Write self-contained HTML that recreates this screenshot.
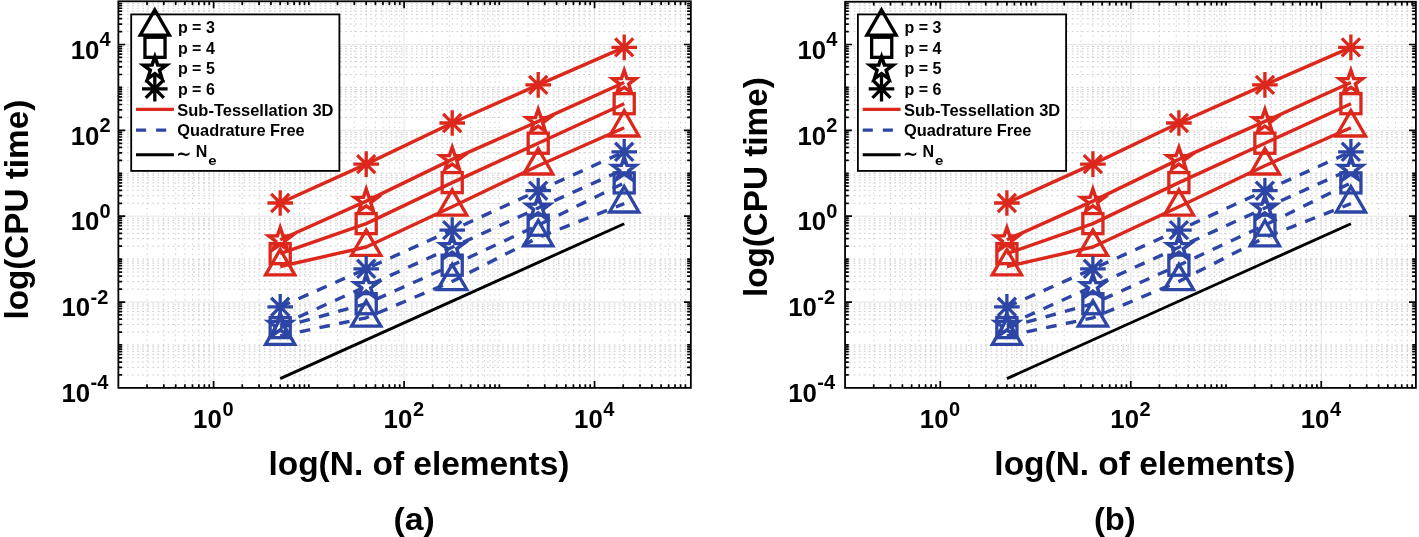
<!DOCTYPE html>
<html lang="en">
<head>
<meta charset="utf-8">
<title>CPU time vs number of elements</title>
<style>
html,body{margin:0;padding:0;background:#fff;}
body{width:1419px;height:537px;overflow:hidden;}
svg{display:block;}
text{font-family:"Liberation Sans",sans-serif;font-weight:bold;fill:#000;}
.tk text{font-size:25.8px;}
.tk text.ex{font-size:20px;}
.lab{font-size:33.45px;}
.ylab{font-size:33.25px;}
.cap{font-size:31.2px;}
.lg text{font-size:15.7px;}
.lg text.nn{font-size:16px;}
.lg text.sb{font-size:13.4px;}
.lg text.tl{font-family:"Liberation Sans","DejaVu Sans",sans-serif;font-size:18.5px;}
</style>
</head>
<body>
<svg width="1419" height="537" viewBox="0 0 1419 537">
<rect width="1419" height="537" fill="#fff"/>
<g transform="translate(0 0)">
<path d="M147.03 1.6V387.88M163.8 1.6V387.88M175.7 1.6V387.88M184.93 1.6V387.88M192.47 1.6V387.88M198.85 1.6V387.88M204.37 1.6V387.88M209.24 1.6V387.88M242.27 1.6V387.88M259.04 1.6V387.88M270.94 1.6V387.88M280.17 1.6V387.88M287.71 1.6V387.88M294.09 1.6V387.88M299.61 1.6V387.88M304.48 1.6V387.88M337.51 1.6V387.88M354.28 1.6V387.88M366.18 1.6V387.88M375.41 1.6V387.88M382.95 1.6V387.88M389.33 1.6V387.88M394.85 1.6V387.88M399.72 1.6V387.88M432.75 1.6V387.88M449.52 1.6V387.88M461.42 1.6V387.88M470.65 1.6V387.88M478.19 1.6V387.88M484.57 1.6V387.88M490.09 1.6V387.88M494.96 1.6V387.88M527.99 1.6V387.88M544.76 1.6V387.88M556.66 1.6V387.88M565.89 1.6V387.88M573.43 1.6V387.88M579.81 1.6V387.88M585.33 1.6V387.88M590.2 1.6V387.88M623.23 1.6V387.88M640 1.6V387.88M651.9 1.6V387.88M661.13 1.6V387.88M668.67 1.6V387.88M675.05 1.6V387.88M680.57 1.6V387.88M685.44 1.6V387.88M308.84 1.6V387.88M499.32 1.6V387.88" stroke="#b8b8b8" stroke-width="0.85" stroke-dasharray="1.3 3.77" stroke-dashoffset="1.5" fill="none" opacity="0.85"/>
<path d="M118.36 374.96H689.8M118.36 367.4H689.8M118.36 362.04H689.8M118.36 357.88H689.8M118.36 354.48H689.8M118.36 351.61H689.8M118.36 349.12H689.8M118.36 346.92H689.8M118.36 332.04H689.8M118.36 324.48H689.8M118.36 319.12H689.8M118.36 314.96H689.8M118.36 311.56H689.8M118.36 308.69H689.8M118.36 306.2H689.8M118.36 304H689.8M118.36 289.12H689.8M118.36 281.56H689.8M118.36 276.2H689.8M118.36 272.04H689.8M118.36 268.64H689.8M118.36 265.77H689.8M118.36 263.28H689.8M118.36 261.08H689.8M118.36 246.2H689.8M118.36 238.64H689.8M118.36 233.28H689.8M118.36 229.12H689.8M118.36 225.72H689.8M118.36 222.85H689.8M118.36 220.36H689.8M118.36 218.16H689.8M118.36 203.28H689.8M118.36 195.72H689.8M118.36 190.36H689.8M118.36 186.2H689.8M118.36 182.8H689.8M118.36 179.93H689.8M118.36 177.44H689.8M118.36 175.24H689.8M118.36 160.36H689.8M118.36 152.8H689.8M118.36 147.44H689.8M118.36 143.28H689.8M118.36 139.88H689.8M118.36 137.01H689.8M118.36 134.52H689.8M118.36 132.32H689.8M118.36 117.44H689.8M118.36 109.88H689.8M118.36 104.52H689.8M118.36 100.36H689.8M118.36 96.96H689.8M118.36 94.09H689.8M118.36 91.6H689.8M118.36 89.4H689.8M118.36 74.52H689.8M118.36 66.96H689.8M118.36 61.6H689.8M118.36 57.44H689.8M118.36 54.04H689.8M118.36 51.17H689.8M118.36 48.68H689.8M118.36 46.48H689.8M118.36 31.6H689.8M118.36 24.04H689.8M118.36 18.68H689.8M118.36 14.52H689.8M118.36 11.12H689.8M118.36 8.25H689.8M118.36 5.76H689.8M118.36 3.56H689.8M118.36 344.96H689.8M118.36 259.12H689.8M118.36 173.28H689.8M118.36 87.44H689.8" stroke="#b8b8b8" stroke-width="0.85" stroke-dasharray="1.7 3.37" stroke-dashoffset="1.5" fill="none" opacity="0.85"/>
<path d="M213.6 1.6V387.88M404.08 1.6V387.88M594.56 1.6V387.88M118.36 302.04H689.8M118.36 216.2H689.8M118.36 130.36H689.8M118.36 44.52H689.8" stroke="#dedede" stroke-width="0.8" fill="none"/>
<polyline points="280.2,266.5 366.2,247 452.2,206.8 538.2,165.7 624.2,127.7" fill="none" stroke="#dc281c" stroke-width="3.4" stroke-linejoin="round"/>
<polygon points="280.2,249.45 294.84,274.8 265.56,274.8" fill="none" stroke="#dc281c" stroke-width="3.3" stroke-linejoin="miter"/>
<polygon points="366.2,229.95 380.84,255.3 351.56,255.3" fill="none" stroke="#dc281c" stroke-width="3.3" stroke-linejoin="miter"/>
<polygon points="452.2,189.75 466.84,215.1 437.56,215.1" fill="none" stroke="#dc281c" stroke-width="3.3" stroke-linejoin="miter"/>
<polygon points="538.2,148.65 552.84,174 523.56,174" fill="none" stroke="#dc281c" stroke-width="3.3" stroke-linejoin="miter"/>
<polygon points="624.2,110.65 638.84,136 609.56,136" fill="none" stroke="#dc281c" stroke-width="3.3" stroke-linejoin="miter"/>
<polyline points="280.2,253.6 366.2,223.6 452.2,182.6 538.2,143.2 624.2,103.7" fill="none" stroke="#dc281c" stroke-width="3.4" stroke-linejoin="round"/>
<rect x="270.15" y="243.55" width="20.1" height="20.1" fill="none" stroke="#dc281c" stroke-width="3.3"/>
<rect x="356.15" y="213.55" width="20.1" height="20.1" fill="none" stroke="#dc281c" stroke-width="3.3"/>
<rect x="442.15" y="172.55" width="20.1" height="20.1" fill="none" stroke="#dc281c" stroke-width="3.3"/>
<rect x="528.15" y="133.15" width="20.1" height="20.1" fill="none" stroke="#dc281c" stroke-width="3.3"/>
<rect x="614.15" y="93.65" width="20.1" height="20.1" fill="none" stroke="#dc281c" stroke-width="3.3"/>
<polyline points="280.2,239.7 366.2,201.1 452.2,159.4 538.2,121.4 624.2,82.5" fill="none" stroke="#dc281c" stroke-width="3.4" stroke-linejoin="round"/>
<polygon points="280.2,227.6 283.01,235.83 291.71,235.96 284.75,241.18 287.31,249.49 280.2,244.48 273.09,249.49 275.65,241.18 268.69,235.96 277.39,235.83" fill="none" stroke="#dc281c" stroke-width="3.5" stroke-linejoin="miter" stroke-miterlimit="6"/>
<polygon points="366.2,189 369.01,197.23 377.71,197.36 370.75,202.58 373.31,210.89 366.2,205.88 359.09,210.89 361.65,202.58 354.69,197.36 363.39,197.23" fill="none" stroke="#dc281c" stroke-width="3.5" stroke-linejoin="miter" stroke-miterlimit="6"/>
<polygon points="452.2,147.3 455.01,155.53 463.71,155.66 456.75,160.88 459.31,169.19 452.2,164.18 445.09,169.19 447.65,160.88 440.69,155.66 449.39,155.53" fill="none" stroke="#dc281c" stroke-width="3.5" stroke-linejoin="miter" stroke-miterlimit="6"/>
<polygon points="538.2,109.3 541.01,117.53 549.71,117.66 542.75,122.88 545.31,131.19 538.2,126.18 531.09,131.19 533.65,122.88 526.69,117.66 535.39,117.53" fill="none" stroke="#dc281c" stroke-width="3.5" stroke-linejoin="miter" stroke-miterlimit="6"/>
<polygon points="624.2,70.4 627.01,78.63 635.71,78.76 628.75,83.98 631.31,92.29 624.2,87.28 617.09,92.29 619.65,83.98 612.69,78.76 621.39,78.63" fill="none" stroke="#dc281c" stroke-width="3.5" stroke-linejoin="miter" stroke-miterlimit="6"/>
<polyline points="280.2,203 366.2,164.1 452.2,123 538.2,84.9 624.2,47.4" fill="none" stroke="#dc281c" stroke-width="3.4" stroke-linejoin="round"/>
<path d="M267.4 203L293 203 M280.2 190.2L280.2 215.8 M271.15 193.95L289.25 212.05 M271.15 212.05L289.25 193.95" fill="none" stroke="#dc281c" stroke-width="3.3"/>
<path d="M353.4 164.1L379 164.1 M366.2 151.3L366.2 176.9 M357.15 155.05L375.25 173.15 M357.15 173.15L375.25 155.05" fill="none" stroke="#dc281c" stroke-width="3.3"/>
<path d="M439.4 123L465 123 M452.2 110.2L452.2 135.8 M443.15 113.95L461.25 132.05 M443.15 132.05L461.25 113.95" fill="none" stroke="#dc281c" stroke-width="3.3"/>
<path d="M525.4 84.9L551 84.9 M538.2 72.1L538.2 97.7 M529.15 75.85L547.25 93.95 M529.15 93.95L547.25 75.85" fill="none" stroke="#dc281c" stroke-width="3.3"/>
<path d="M611.4 47.4L637 47.4 M624.2 34.6L624.2 60.2 M615.15 38.35L633.25 56.45 M615.15 56.45L633.25 38.35" fill="none" stroke="#dc281c" stroke-width="3.3"/>
<polyline points="280.2,336 366.2,317.8 452.2,281.4 538.2,237.5 624.2,203.7" fill="none" stroke="#2d46a5" stroke-width="3.4" stroke-linejoin="round" stroke-dasharray="10.62 9.45"/>
<polygon points="280.2,318.95 294.84,344.3 265.56,344.3" fill="none" stroke="#2d46a5" stroke-width="3.3" stroke-linejoin="miter"/>
<polygon points="366.2,300.75 380.84,326.1 351.56,326.1" fill="none" stroke="#2d46a5" stroke-width="3.3" stroke-linejoin="miter"/>
<polygon points="452.2,264.35 466.84,289.7 437.56,289.7" fill="none" stroke="#2d46a5" stroke-width="3.3" stroke-linejoin="miter"/>
<polygon points="538.2,220.45 552.84,245.8 523.56,245.8" fill="none" stroke="#2d46a5" stroke-width="3.3" stroke-linejoin="miter"/>
<polygon points="624.2,186.65 638.84,212 609.56,212" fill="none" stroke="#2d46a5" stroke-width="3.3" stroke-linejoin="miter"/>
<polyline points="280.2,327.6 366.2,303.7 452.2,265.2 538.2,225.2 624.2,182.9" fill="none" stroke="#2d46a5" stroke-width="3.4" stroke-linejoin="round" stroke-dasharray="10.62 9.45"/>
<rect x="270.15" y="317.55" width="20.1" height="20.1" fill="none" stroke="#2d46a5" stroke-width="3.3"/>
<rect x="356.15" y="293.65" width="20.1" height="20.1" fill="none" stroke="#2d46a5" stroke-width="3.3"/>
<rect x="442.15" y="255.15" width="20.1" height="20.1" fill="none" stroke="#2d46a5" stroke-width="3.3"/>
<rect x="528.15" y="215.15" width="20.1" height="20.1" fill="none" stroke="#2d46a5" stroke-width="3.3"/>
<rect x="614.15" y="172.85" width="20.1" height="20.1" fill="none" stroke="#2d46a5" stroke-width="3.3"/>
<polyline points="280.2,325.2 366.2,286.4 452.2,247.3 538.2,208 624.2,169.2" fill="none" stroke="#2d46a5" stroke-width="3.4" stroke-linejoin="round" stroke-dasharray="10.62 9.45"/>
<polygon points="280.2,313.1 283.01,321.33 291.71,321.46 284.75,326.68 287.31,334.99 280.2,329.98 273.09,334.99 275.65,326.68 268.69,321.46 277.39,321.33" fill="none" stroke="#2d46a5" stroke-width="3.5" stroke-linejoin="miter" stroke-miterlimit="6"/>
<polygon points="366.2,274.3 369.01,282.53 377.71,282.66 370.75,287.88 373.31,296.19 366.2,291.18 359.09,296.19 361.65,287.88 354.69,282.66 363.39,282.53" fill="none" stroke="#2d46a5" stroke-width="3.5" stroke-linejoin="miter" stroke-miterlimit="6"/>
<polygon points="452.2,235.2 455.01,243.43 463.71,243.56 456.75,248.78 459.31,257.09 452.2,252.08 445.09,257.09 447.65,248.78 440.69,243.56 449.39,243.43" fill="none" stroke="#2d46a5" stroke-width="3.5" stroke-linejoin="miter" stroke-miterlimit="6"/>
<polygon points="538.2,195.9 541.01,204.13 549.71,204.26 542.75,209.48 545.31,217.79 538.2,212.78 531.09,217.79 533.65,209.48 526.69,204.26 535.39,204.13" fill="none" stroke="#2d46a5" stroke-width="3.5" stroke-linejoin="miter" stroke-miterlimit="6"/>
<polygon points="624.2,157.1 627.01,165.33 635.71,165.46 628.75,170.68 631.31,178.99 624.2,173.98 617.09,178.99 619.65,170.68 612.69,165.46 621.39,165.33" fill="none" stroke="#2d46a5" stroke-width="3.5" stroke-linejoin="miter" stroke-miterlimit="6"/>
<polyline points="280.2,306.8 366.2,268.8 452.2,230.1 538.2,190.7 624.2,151.8" fill="none" stroke="#2d46a5" stroke-width="3.4" stroke-linejoin="round" stroke-dasharray="10.62 9.45"/>
<path d="M267.4 306.8L293 306.8 M280.2 294L280.2 319.6 M271.15 297.75L289.25 315.85 M271.15 315.85L289.25 297.75" fill="none" stroke="#2d46a5" stroke-width="3.3"/>
<path d="M353.4 268.8L379 268.8 M366.2 256L366.2 281.6 M357.15 259.75L375.25 277.85 M357.15 277.85L375.25 259.75" fill="none" stroke="#2d46a5" stroke-width="3.3"/>
<path d="M439.4 230.1L465 230.1 M452.2 217.3L452.2 242.9 M443.15 221.05L461.25 239.15 M443.15 239.15L461.25 221.05" fill="none" stroke="#2d46a5" stroke-width="3.3"/>
<path d="M525.4 190.7L551 190.7 M538.2 177.9L538.2 203.5 M529.15 181.65L547.25 199.75 M529.15 199.75L547.25 181.65" fill="none" stroke="#2d46a5" stroke-width="3.3"/>
<path d="M611.4 151.8L637 151.8 M624.2 139L624.2 164.6 M615.15 142.75L633.25 160.85 M615.15 160.85L633.25 142.75" fill="none" stroke="#2d46a5" stroke-width="3.3"/>
<path d="M280.2 378.6L624.2 223.75" stroke="#000" stroke-width="2.9" fill="none"/>
<path d="M147.03 387.88v-3.7M147.03 1.3v3.7M163.8 387.88v-3.7M163.8 1.3v3.7M175.7 387.88v-3.7M175.7 1.3v3.7M184.93 387.88v-3.7M184.93 1.3v3.7M192.47 387.88v-3.7M192.47 1.3v3.7M198.85 387.88v-3.7M198.85 1.3v3.7M204.37 387.88v-3.7M204.37 1.3v3.7M209.24 387.88v-3.7M209.24 1.3v3.7M213.6 387.88v-6.9M213.6 1.3v6.9M242.27 387.88v-3.7M242.27 1.3v3.7M259.04 387.88v-3.7M259.04 1.3v3.7M270.94 387.88v-3.7M270.94 1.3v3.7M280.17 387.88v-3.7M280.17 1.3v3.7M287.71 387.88v-3.7M287.71 1.3v3.7M294.09 387.88v-3.7M294.09 1.3v3.7M299.61 387.88v-3.7M299.61 1.3v3.7M304.48 387.88v-3.7M304.48 1.3v3.7M308.84 387.88v-3.7M308.84 1.3v3.7M337.51 387.88v-3.7M337.51 1.3v3.7M354.28 387.88v-3.7M354.28 1.3v3.7M366.18 387.88v-3.7M366.18 1.3v3.7M375.41 387.88v-3.7M375.41 1.3v3.7M382.95 387.88v-3.7M382.95 1.3v3.7M389.33 387.88v-3.7M389.33 1.3v3.7M394.85 387.88v-3.7M394.85 1.3v3.7M399.72 387.88v-3.7M399.72 1.3v3.7M404.08 387.88v-6.9M404.08 1.3v6.9M432.75 387.88v-3.7M432.75 1.3v3.7M449.52 387.88v-3.7M449.52 1.3v3.7M461.42 387.88v-3.7M461.42 1.3v3.7M470.65 387.88v-3.7M470.65 1.3v3.7M478.19 387.88v-3.7M478.19 1.3v3.7M484.57 387.88v-3.7M484.57 1.3v3.7M490.09 387.88v-3.7M490.09 1.3v3.7M494.96 387.88v-3.7M494.96 1.3v3.7M499.32 387.88v-3.7M499.32 1.3v3.7M527.99 387.88v-3.7M527.99 1.3v3.7M544.76 387.88v-3.7M544.76 1.3v3.7M556.66 387.88v-3.7M556.66 1.3v3.7M565.89 387.88v-3.7M565.89 1.3v3.7M573.43 387.88v-3.7M573.43 1.3v3.7M579.81 387.88v-3.7M579.81 1.3v3.7M585.33 387.88v-3.7M585.33 1.3v3.7M590.2 387.88v-3.7M590.2 1.3v3.7M594.56 387.88v-6.9M594.56 1.3v6.9M623.23 387.88v-3.7M623.23 1.3v3.7M640 387.88v-3.7M640 1.3v3.7M651.9 387.88v-3.7M651.9 1.3v3.7M661.13 387.88v-3.7M661.13 1.3v3.7M668.67 387.88v-3.7M668.67 1.3v3.7M675.05 387.88v-3.7M675.05 1.3v3.7M680.57 387.88v-3.7M680.57 1.3v3.7M685.44 387.88v-3.7M685.44 1.3v3.7M118.36 374.96h3.7M690.85 374.96h-3.7M118.36 367.4h3.7M690.85 367.4h-3.7M118.36 362.04h3.7M690.85 362.04h-3.7M118.36 357.88h3.7M690.85 357.88h-3.7M118.36 354.48h3.7M690.85 354.48h-3.7M118.36 351.61h3.7M690.85 351.61h-3.7M118.36 349.12h3.7M690.85 349.12h-3.7M118.36 346.92h3.7M690.85 346.92h-3.7M118.36 344.96h3.7M690.85 344.96h-3.7M118.36 332.04h3.7M690.85 332.04h-3.7M118.36 324.48h3.7M690.85 324.48h-3.7M118.36 319.12h3.7M690.85 319.12h-3.7M118.36 314.96h3.7M690.85 314.96h-3.7M118.36 311.56h3.7M690.85 311.56h-3.7M118.36 308.69h3.7M690.85 308.69h-3.7M118.36 306.2h3.7M690.85 306.2h-3.7M118.36 304h3.7M690.85 304h-3.7M118.36 302.04h6.9M690.85 302.04h-6.9M118.36 289.12h3.7M690.85 289.12h-3.7M118.36 281.56h3.7M690.85 281.56h-3.7M118.36 276.2h3.7M690.85 276.2h-3.7M118.36 272.04h3.7M690.85 272.04h-3.7M118.36 268.64h3.7M690.85 268.64h-3.7M118.36 265.77h3.7M690.85 265.77h-3.7M118.36 263.28h3.7M690.85 263.28h-3.7M118.36 261.08h3.7M690.85 261.08h-3.7M118.36 259.12h3.7M690.85 259.12h-3.7M118.36 246.2h3.7M690.85 246.2h-3.7M118.36 238.64h3.7M690.85 238.64h-3.7M118.36 233.28h3.7M690.85 233.28h-3.7M118.36 229.12h3.7M690.85 229.12h-3.7M118.36 225.72h3.7M690.85 225.72h-3.7M118.36 222.85h3.7M690.85 222.85h-3.7M118.36 220.36h3.7M690.85 220.36h-3.7M118.36 218.16h3.7M690.85 218.16h-3.7M118.36 216.2h6.9M690.85 216.2h-6.9M118.36 203.28h3.7M690.85 203.28h-3.7M118.36 195.72h3.7M690.85 195.72h-3.7M118.36 190.36h3.7M690.85 190.36h-3.7M118.36 186.2h3.7M690.85 186.2h-3.7M118.36 182.8h3.7M690.85 182.8h-3.7M118.36 179.93h3.7M690.85 179.93h-3.7M118.36 177.44h3.7M690.85 177.44h-3.7M118.36 175.24h3.7M690.85 175.24h-3.7M118.36 173.28h3.7M690.85 173.28h-3.7M118.36 160.36h3.7M690.85 160.36h-3.7M118.36 152.8h3.7M690.85 152.8h-3.7M118.36 147.44h3.7M690.85 147.44h-3.7M118.36 143.28h3.7M690.85 143.28h-3.7M118.36 139.88h3.7M690.85 139.88h-3.7M118.36 137.01h3.7M690.85 137.01h-3.7M118.36 134.52h3.7M690.85 134.52h-3.7M118.36 132.32h3.7M690.85 132.32h-3.7M118.36 130.36h6.9M690.85 130.36h-6.9M118.36 117.44h3.7M690.85 117.44h-3.7M118.36 109.88h3.7M690.85 109.88h-3.7M118.36 104.52h3.7M690.85 104.52h-3.7M118.36 100.36h3.7M690.85 100.36h-3.7M118.36 96.96h3.7M690.85 96.96h-3.7M118.36 94.09h3.7M690.85 94.09h-3.7M118.36 91.6h3.7M690.85 91.6h-3.7M118.36 89.4h3.7M690.85 89.4h-3.7M118.36 87.44h3.7M690.85 87.44h-3.7M118.36 74.52h3.7M690.85 74.52h-3.7M118.36 66.96h3.7M690.85 66.96h-3.7M118.36 61.6h3.7M690.85 61.6h-3.7M118.36 57.44h3.7M690.85 57.44h-3.7M118.36 54.04h3.7M690.85 54.04h-3.7M118.36 51.17h3.7M690.85 51.17h-3.7M118.36 48.68h3.7M690.85 48.68h-3.7M118.36 46.48h3.7M690.85 46.48h-3.7M118.36 44.52h6.9M690.85 44.52h-6.9M118.36 31.6h3.7M690.85 31.6h-3.7M118.36 24.04h3.7M690.85 24.04h-3.7M118.36 18.68h3.7M690.85 18.68h-3.7M118.36 14.52h3.7M690.85 14.52h-3.7M118.36 11.12h3.7M690.85 11.12h-3.7M118.36 8.25h3.7M690.85 8.25h-3.7M118.36 5.76h3.7M690.85 5.76h-3.7M118.36 3.56h3.7M690.85 3.56h-3.7" stroke="#000" stroke-width="1.7" fill="none"/>
<rect x="118.36" y="1.3" width="572.49" height="386.58" fill="none" stroke="#000" stroke-width="1.8"/>
<g class="tk">
<text x="99.4" y="58.72" text-anchor="end">10</text>
<text class="ex" x="99.6" y="46.02">4</text>
<text x="99.4" y="144.56" text-anchor="end">10</text>
<text class="ex" x="99.6" y="131.86">2</text>
<text x="99.4" y="230.4" text-anchor="end">10</text>
<text class="ex" x="99.6" y="217.7">0</text>
<text x="90.2" y="316.24" text-anchor="end">10</text>
<text class="ex" x="90.6" y="303.54">-2</text>
<text x="90.2" y="402.08" text-anchor="end">10</text>
<text class="ex" x="90.6" y="389.38">-4</text>
<text x="193.1" y="427.7">10</text>
<text class="ex" x="222.4" y="416.1">0</text>
<text x="383.58" y="427.7">10</text>
<text class="ex" x="412.88" y="416.1">2</text>
<text x="574.06" y="427.7">10</text>
<text class="ex" x="603.36" y="416.1">4</text>
</g>
<text class="lab" x="418.95" y="474.5" text-anchor="middle">log(N. of elements)</text>
<text class="ylab" transform="translate(27.9 209.7) rotate(-90)" text-anchor="middle">log(CPU time)</text>
<text class="cap" transform="translate(414.1 529.7) scale(1.083 1)" text-anchor="middle">(a)</text>
<rect x="131.2" y="14.4" width="208.2" height="156.5" fill="#fff" stroke="#000" stroke-width="1.8"/>
<polygon points="154.8,9.85 169.44,35.2 140.16,35.2" fill="none" stroke="#000" stroke-width="3.3" stroke-linejoin="miter"/>
<rect x="144.95" y="37.25" width="20.1" height="20.1" fill="none" stroke="#000" stroke-width="3.3"/>
<polygon points="154.9,56.7 157.71,64.93 166.41,65.06 159.45,70.28 162.01,78.59 154.9,73.58 147.79,78.59 150.35,70.28 143.39,65.06 152.09,64.93" fill="none" stroke="#000" stroke-width="3.5" stroke-linejoin="miter" stroke-miterlimit="6"/>
<path d="M142 88.8L167.6 88.8 M154.8 76L154.8 101.6 M145.75 79.75L163.85 97.85 M145.75 97.85L163.85 79.75" fill="none" stroke="#000" stroke-width="3.3"/>
<path d="M136 109.4H173.9" stroke="#dc281c" stroke-width="3.4"/>
<path d="M136 130.1H173.9" stroke="#2d46a5" stroke-width="3.4" stroke-dasharray="10.1 10"/>
<path d="M136 154.7H173.9" stroke="#000" stroke-width="2.9"/>
<g class="lg">
<text x="177.9" y="33" textLength="36.9" lengthAdjust="spacingAndGlyphs">p = 3</text>
<text x="177.9" y="53.68" textLength="36.9" lengthAdjust="spacingAndGlyphs">p = 4</text>
<text x="177.9" y="74.36" textLength="36.9" lengthAdjust="spacingAndGlyphs">p = 5</text>
<text x="177.9" y="95.04" textLength="36.9" lengthAdjust="spacingAndGlyphs">p = 6</text>
<text x="177.3" y="115.72" textLength="156.2" lengthAdjust="spacingAndGlyphs">Sub-Tessellation 3D</text>
<text x="177.3" y="136.4" textLength="127.4" lengthAdjust="spacingAndGlyphs">Quadrature Free</text>
<text class="tl" x="176.0" y="159.6">∼</text>
<text class="nn" x="195.8" y="156.7">N</text>
<text class="sb" x="208.2" y="164.7" textLength="8.3" lengthAdjust="spacingAndGlyphs">e</text>
</g>
</g>
<g transform="translate(726.7 0)">
<path d="M147.03 1.6V387.88M163.8 1.6V387.88M175.7 1.6V387.88M184.93 1.6V387.88M192.47 1.6V387.88M198.85 1.6V387.88M204.37 1.6V387.88M209.24 1.6V387.88M242.27 1.6V387.88M259.04 1.6V387.88M270.94 1.6V387.88M280.17 1.6V387.88M287.71 1.6V387.88M294.09 1.6V387.88M299.61 1.6V387.88M304.48 1.6V387.88M337.51 1.6V387.88M354.28 1.6V387.88M366.18 1.6V387.88M375.41 1.6V387.88M382.95 1.6V387.88M389.33 1.6V387.88M394.85 1.6V387.88M399.72 1.6V387.88M432.75 1.6V387.88M449.52 1.6V387.88M461.42 1.6V387.88M470.65 1.6V387.88M478.19 1.6V387.88M484.57 1.6V387.88M490.09 1.6V387.88M494.96 1.6V387.88M527.99 1.6V387.88M544.76 1.6V387.88M556.66 1.6V387.88M565.89 1.6V387.88M573.43 1.6V387.88M579.81 1.6V387.88M585.33 1.6V387.88M590.2 1.6V387.88M623.23 1.6V387.88M640 1.6V387.88M651.9 1.6V387.88M661.13 1.6V387.88M668.67 1.6V387.88M675.05 1.6V387.88M680.57 1.6V387.88M685.44 1.6V387.88M308.84 1.6V387.88M499.32 1.6V387.88" stroke="#b8b8b8" stroke-width="0.85" stroke-dasharray="1.3 3.77" stroke-dashoffset="1.5" fill="none" opacity="0.85"/>
<path d="M118.36 374.96H689.8M118.36 367.4H689.8M118.36 362.04H689.8M118.36 357.88H689.8M118.36 354.48H689.8M118.36 351.61H689.8M118.36 349.12H689.8M118.36 346.92H689.8M118.36 332.04H689.8M118.36 324.48H689.8M118.36 319.12H689.8M118.36 314.96H689.8M118.36 311.56H689.8M118.36 308.69H689.8M118.36 306.2H689.8M118.36 304H689.8M118.36 289.12H689.8M118.36 281.56H689.8M118.36 276.2H689.8M118.36 272.04H689.8M118.36 268.64H689.8M118.36 265.77H689.8M118.36 263.28H689.8M118.36 261.08H689.8M118.36 246.2H689.8M118.36 238.64H689.8M118.36 233.28H689.8M118.36 229.12H689.8M118.36 225.72H689.8M118.36 222.85H689.8M118.36 220.36H689.8M118.36 218.16H689.8M118.36 203.28H689.8M118.36 195.72H689.8M118.36 190.36H689.8M118.36 186.2H689.8M118.36 182.8H689.8M118.36 179.93H689.8M118.36 177.44H689.8M118.36 175.24H689.8M118.36 160.36H689.8M118.36 152.8H689.8M118.36 147.44H689.8M118.36 143.28H689.8M118.36 139.88H689.8M118.36 137.01H689.8M118.36 134.52H689.8M118.36 132.32H689.8M118.36 117.44H689.8M118.36 109.88H689.8M118.36 104.52H689.8M118.36 100.36H689.8M118.36 96.96H689.8M118.36 94.09H689.8M118.36 91.6H689.8M118.36 89.4H689.8M118.36 74.52H689.8M118.36 66.96H689.8M118.36 61.6H689.8M118.36 57.44H689.8M118.36 54.04H689.8M118.36 51.17H689.8M118.36 48.68H689.8M118.36 46.48H689.8M118.36 31.6H689.8M118.36 24.04H689.8M118.36 18.68H689.8M118.36 14.52H689.8M118.36 11.12H689.8M118.36 8.25H689.8M118.36 5.76H689.8M118.36 3.56H689.8M118.36 344.96H689.8M118.36 259.12H689.8M118.36 173.28H689.8M118.36 87.44H689.8" stroke="#b8b8b8" stroke-width="0.85" stroke-dasharray="1.7 3.37" stroke-dashoffset="1.5" fill="none" opacity="0.85"/>
<path d="M213.6 1.6V387.88M404.08 1.6V387.88M594.56 1.6V387.88M118.36 302.04H689.8M118.36 216.2H689.8M118.36 130.36H689.8M118.36 44.52H689.8" stroke="#dedede" stroke-width="0.8" fill="none"/>
<polyline points="280.2,266.5 366.2,247 452.2,206.8 538.2,165.7 624.2,127.7" fill="none" stroke="#dc281c" stroke-width="3.4" stroke-linejoin="round"/>
<polygon points="280.2,249.45 294.84,274.8 265.56,274.8" fill="none" stroke="#dc281c" stroke-width="3.3" stroke-linejoin="miter"/>
<polygon points="366.2,229.95 380.84,255.3 351.56,255.3" fill="none" stroke="#dc281c" stroke-width="3.3" stroke-linejoin="miter"/>
<polygon points="452.2,189.75 466.84,215.1 437.56,215.1" fill="none" stroke="#dc281c" stroke-width="3.3" stroke-linejoin="miter"/>
<polygon points="538.2,148.65 552.84,174 523.56,174" fill="none" stroke="#dc281c" stroke-width="3.3" stroke-linejoin="miter"/>
<polygon points="624.2,110.65 638.84,136 609.56,136" fill="none" stroke="#dc281c" stroke-width="3.3" stroke-linejoin="miter"/>
<polyline points="280.2,253.6 366.2,223.6 452.2,182.6 538.2,143.2 624.2,103.7" fill="none" stroke="#dc281c" stroke-width="3.4" stroke-linejoin="round"/>
<rect x="270.15" y="243.55" width="20.1" height="20.1" fill="none" stroke="#dc281c" stroke-width="3.3"/>
<rect x="356.15" y="213.55" width="20.1" height="20.1" fill="none" stroke="#dc281c" stroke-width="3.3"/>
<rect x="442.15" y="172.55" width="20.1" height="20.1" fill="none" stroke="#dc281c" stroke-width="3.3"/>
<rect x="528.15" y="133.15" width="20.1" height="20.1" fill="none" stroke="#dc281c" stroke-width="3.3"/>
<rect x="614.15" y="93.65" width="20.1" height="20.1" fill="none" stroke="#dc281c" stroke-width="3.3"/>
<polyline points="280.2,239.7 366.2,201.1 452.2,159.4 538.2,121.4 624.2,82.5" fill="none" stroke="#dc281c" stroke-width="3.4" stroke-linejoin="round"/>
<polygon points="280.2,227.6 283.01,235.83 291.71,235.96 284.75,241.18 287.31,249.49 280.2,244.48 273.09,249.49 275.65,241.18 268.69,235.96 277.39,235.83" fill="none" stroke="#dc281c" stroke-width="3.5" stroke-linejoin="miter" stroke-miterlimit="6"/>
<polygon points="366.2,189 369.01,197.23 377.71,197.36 370.75,202.58 373.31,210.89 366.2,205.88 359.09,210.89 361.65,202.58 354.69,197.36 363.39,197.23" fill="none" stroke="#dc281c" stroke-width="3.5" stroke-linejoin="miter" stroke-miterlimit="6"/>
<polygon points="452.2,147.3 455.01,155.53 463.71,155.66 456.75,160.88 459.31,169.19 452.2,164.18 445.09,169.19 447.65,160.88 440.69,155.66 449.39,155.53" fill="none" stroke="#dc281c" stroke-width="3.5" stroke-linejoin="miter" stroke-miterlimit="6"/>
<polygon points="538.2,109.3 541.01,117.53 549.71,117.66 542.75,122.88 545.31,131.19 538.2,126.18 531.09,131.19 533.65,122.88 526.69,117.66 535.39,117.53" fill="none" stroke="#dc281c" stroke-width="3.5" stroke-linejoin="miter" stroke-miterlimit="6"/>
<polygon points="624.2,70.4 627.01,78.63 635.71,78.76 628.75,83.98 631.31,92.29 624.2,87.28 617.09,92.29 619.65,83.98 612.69,78.76 621.39,78.63" fill="none" stroke="#dc281c" stroke-width="3.5" stroke-linejoin="miter" stroke-miterlimit="6"/>
<polyline points="280.2,203 366.2,164.1 452.2,123 538.2,84.9 624.2,47.4" fill="none" stroke="#dc281c" stroke-width="3.4" stroke-linejoin="round"/>
<path d="M267.4 203L293 203 M280.2 190.2L280.2 215.8 M271.15 193.95L289.25 212.05 M271.15 212.05L289.25 193.95" fill="none" stroke="#dc281c" stroke-width="3.3"/>
<path d="M353.4 164.1L379 164.1 M366.2 151.3L366.2 176.9 M357.15 155.05L375.25 173.15 M357.15 173.15L375.25 155.05" fill="none" stroke="#dc281c" stroke-width="3.3"/>
<path d="M439.4 123L465 123 M452.2 110.2L452.2 135.8 M443.15 113.95L461.25 132.05 M443.15 132.05L461.25 113.95" fill="none" stroke="#dc281c" stroke-width="3.3"/>
<path d="M525.4 84.9L551 84.9 M538.2 72.1L538.2 97.7 M529.15 75.85L547.25 93.95 M529.15 93.95L547.25 75.85" fill="none" stroke="#dc281c" stroke-width="3.3"/>
<path d="M611.4 47.4L637 47.4 M624.2 34.6L624.2 60.2 M615.15 38.35L633.25 56.45 M615.15 56.45L633.25 38.35" fill="none" stroke="#dc281c" stroke-width="3.3"/>
<polyline points="280.2,336 366.2,317.8 452.2,281.4 538.2,237.5 624.2,203.7" fill="none" stroke="#2d46a5" stroke-width="3.4" stroke-linejoin="round" stroke-dasharray="10.62 9.45"/>
<polygon points="280.2,318.95 294.84,344.3 265.56,344.3" fill="none" stroke="#2d46a5" stroke-width="3.3" stroke-linejoin="miter"/>
<polygon points="366.2,300.75 380.84,326.1 351.56,326.1" fill="none" stroke="#2d46a5" stroke-width="3.3" stroke-linejoin="miter"/>
<polygon points="452.2,264.35 466.84,289.7 437.56,289.7" fill="none" stroke="#2d46a5" stroke-width="3.3" stroke-linejoin="miter"/>
<polygon points="538.2,220.45 552.84,245.8 523.56,245.8" fill="none" stroke="#2d46a5" stroke-width="3.3" stroke-linejoin="miter"/>
<polygon points="624.2,186.65 638.84,212 609.56,212" fill="none" stroke="#2d46a5" stroke-width="3.3" stroke-linejoin="miter"/>
<polyline points="280.2,327.6 366.2,303.7 452.2,265.2 538.2,225.2 624.2,182.9" fill="none" stroke="#2d46a5" stroke-width="3.4" stroke-linejoin="round" stroke-dasharray="10.62 9.45"/>
<rect x="270.15" y="317.55" width="20.1" height="20.1" fill="none" stroke="#2d46a5" stroke-width="3.3"/>
<rect x="356.15" y="293.65" width="20.1" height="20.1" fill="none" stroke="#2d46a5" stroke-width="3.3"/>
<rect x="442.15" y="255.15" width="20.1" height="20.1" fill="none" stroke="#2d46a5" stroke-width="3.3"/>
<rect x="528.15" y="215.15" width="20.1" height="20.1" fill="none" stroke="#2d46a5" stroke-width="3.3"/>
<rect x="614.15" y="172.85" width="20.1" height="20.1" fill="none" stroke="#2d46a5" stroke-width="3.3"/>
<polyline points="280.2,325.2 366.2,286.4 452.2,247.3 538.2,208 624.2,169.2" fill="none" stroke="#2d46a5" stroke-width="3.4" stroke-linejoin="round" stroke-dasharray="10.62 9.45"/>
<polygon points="280.2,313.1 283.01,321.33 291.71,321.46 284.75,326.68 287.31,334.99 280.2,329.98 273.09,334.99 275.65,326.68 268.69,321.46 277.39,321.33" fill="none" stroke="#2d46a5" stroke-width="3.5" stroke-linejoin="miter" stroke-miterlimit="6"/>
<polygon points="366.2,274.3 369.01,282.53 377.71,282.66 370.75,287.88 373.31,296.19 366.2,291.18 359.09,296.19 361.65,287.88 354.69,282.66 363.39,282.53" fill="none" stroke="#2d46a5" stroke-width="3.5" stroke-linejoin="miter" stroke-miterlimit="6"/>
<polygon points="452.2,235.2 455.01,243.43 463.71,243.56 456.75,248.78 459.31,257.09 452.2,252.08 445.09,257.09 447.65,248.78 440.69,243.56 449.39,243.43" fill="none" stroke="#2d46a5" stroke-width="3.5" stroke-linejoin="miter" stroke-miterlimit="6"/>
<polygon points="538.2,195.9 541.01,204.13 549.71,204.26 542.75,209.48 545.31,217.79 538.2,212.78 531.09,217.79 533.65,209.48 526.69,204.26 535.39,204.13" fill="none" stroke="#2d46a5" stroke-width="3.5" stroke-linejoin="miter" stroke-miterlimit="6"/>
<polygon points="624.2,157.1 627.01,165.33 635.71,165.46 628.75,170.68 631.31,178.99 624.2,173.98 617.09,178.99 619.65,170.68 612.69,165.46 621.39,165.33" fill="none" stroke="#2d46a5" stroke-width="3.5" stroke-linejoin="miter" stroke-miterlimit="6"/>
<polyline points="280.2,306.8 366.2,268.8 452.2,230.1 538.2,190.7 624.2,151.8" fill="none" stroke="#2d46a5" stroke-width="3.4" stroke-linejoin="round" stroke-dasharray="10.62 9.45"/>
<path d="M267.4 306.8L293 306.8 M280.2 294L280.2 319.6 M271.15 297.75L289.25 315.85 M271.15 315.85L289.25 297.75" fill="none" stroke="#2d46a5" stroke-width="3.3"/>
<path d="M353.4 268.8L379 268.8 M366.2 256L366.2 281.6 M357.15 259.75L375.25 277.85 M357.15 277.85L375.25 259.75" fill="none" stroke="#2d46a5" stroke-width="3.3"/>
<path d="M439.4 230.1L465 230.1 M452.2 217.3L452.2 242.9 M443.15 221.05L461.25 239.15 M443.15 239.15L461.25 221.05" fill="none" stroke="#2d46a5" stroke-width="3.3"/>
<path d="M525.4 190.7L551 190.7 M538.2 177.9L538.2 203.5 M529.15 181.65L547.25 199.75 M529.15 199.75L547.25 181.65" fill="none" stroke="#2d46a5" stroke-width="3.3"/>
<path d="M611.4 151.8L637 151.8 M624.2 139L624.2 164.6 M615.15 142.75L633.25 160.85 M615.15 160.85L633.25 142.75" fill="none" stroke="#2d46a5" stroke-width="3.3"/>
<path d="M280.2 378.6L624.2 223.75" stroke="#000" stroke-width="2.9" fill="none"/>
<path d="M147.03 387.88v-3.7M147.03 1.75v3.7M163.8 387.88v-3.7M163.8 1.75v3.7M175.7 387.88v-3.7M175.7 1.75v3.7M184.93 387.88v-3.7M184.93 1.75v3.7M192.47 387.88v-3.7M192.47 1.75v3.7M198.85 387.88v-3.7M198.85 1.75v3.7M204.37 387.88v-3.7M204.37 1.75v3.7M209.24 387.88v-3.7M209.24 1.75v3.7M213.6 387.88v-6.9M213.6 1.75v6.9M242.27 387.88v-3.7M242.27 1.75v3.7M259.04 387.88v-3.7M259.04 1.75v3.7M270.94 387.88v-3.7M270.94 1.75v3.7M280.17 387.88v-3.7M280.17 1.75v3.7M287.71 387.88v-3.7M287.71 1.75v3.7M294.09 387.88v-3.7M294.09 1.75v3.7M299.61 387.88v-3.7M299.61 1.75v3.7M304.48 387.88v-3.7M304.48 1.75v3.7M308.84 387.88v-3.7M308.84 1.75v3.7M337.51 387.88v-3.7M337.51 1.75v3.7M354.28 387.88v-3.7M354.28 1.75v3.7M366.18 387.88v-3.7M366.18 1.75v3.7M375.41 387.88v-3.7M375.41 1.75v3.7M382.95 387.88v-3.7M382.95 1.75v3.7M389.33 387.88v-3.7M389.33 1.75v3.7M394.85 387.88v-3.7M394.85 1.75v3.7M399.72 387.88v-3.7M399.72 1.75v3.7M404.08 387.88v-6.9M404.08 1.75v6.9M432.75 387.88v-3.7M432.75 1.75v3.7M449.52 387.88v-3.7M449.52 1.75v3.7M461.42 387.88v-3.7M461.42 1.75v3.7M470.65 387.88v-3.7M470.65 1.75v3.7M478.19 387.88v-3.7M478.19 1.75v3.7M484.57 387.88v-3.7M484.57 1.75v3.7M490.09 387.88v-3.7M490.09 1.75v3.7M494.96 387.88v-3.7M494.96 1.75v3.7M499.32 387.88v-3.7M499.32 1.75v3.7M527.99 387.88v-3.7M527.99 1.75v3.7M544.76 387.88v-3.7M544.76 1.75v3.7M556.66 387.88v-3.7M556.66 1.75v3.7M565.89 387.88v-3.7M565.89 1.75v3.7M573.43 387.88v-3.7M573.43 1.75v3.7M579.81 387.88v-3.7M579.81 1.75v3.7M585.33 387.88v-3.7M585.33 1.75v3.7M590.2 387.88v-3.7M590.2 1.75v3.7M594.56 387.88v-6.9M594.56 1.75v6.9M623.23 387.88v-3.7M623.23 1.75v3.7M640 387.88v-3.7M640 1.75v3.7M651.9 387.88v-3.7M651.9 1.75v3.7M661.13 387.88v-3.7M661.13 1.75v3.7M668.67 387.88v-3.7M668.67 1.75v3.7M675.05 387.88v-3.7M675.05 1.75v3.7M680.57 387.88v-3.7M680.57 1.75v3.7M685.44 387.88v-3.7M685.44 1.75v3.7M118.36 374.96h3.7M689.2 374.96h-3.7M118.36 367.4h3.7M689.2 367.4h-3.7M118.36 362.04h3.7M689.2 362.04h-3.7M118.36 357.88h3.7M689.2 357.88h-3.7M118.36 354.48h3.7M689.2 354.48h-3.7M118.36 351.61h3.7M689.2 351.61h-3.7M118.36 349.12h3.7M689.2 349.12h-3.7M118.36 346.92h3.7M689.2 346.92h-3.7M118.36 344.96h3.7M689.2 344.96h-3.7M118.36 332.04h3.7M689.2 332.04h-3.7M118.36 324.48h3.7M689.2 324.48h-3.7M118.36 319.12h3.7M689.2 319.12h-3.7M118.36 314.96h3.7M689.2 314.96h-3.7M118.36 311.56h3.7M689.2 311.56h-3.7M118.36 308.69h3.7M689.2 308.69h-3.7M118.36 306.2h3.7M689.2 306.2h-3.7M118.36 304h3.7M689.2 304h-3.7M118.36 302.04h6.9M689.2 302.04h-6.9M118.36 289.12h3.7M689.2 289.12h-3.7M118.36 281.56h3.7M689.2 281.56h-3.7M118.36 276.2h3.7M689.2 276.2h-3.7M118.36 272.04h3.7M689.2 272.04h-3.7M118.36 268.64h3.7M689.2 268.64h-3.7M118.36 265.77h3.7M689.2 265.77h-3.7M118.36 263.28h3.7M689.2 263.28h-3.7M118.36 261.08h3.7M689.2 261.08h-3.7M118.36 259.12h3.7M689.2 259.12h-3.7M118.36 246.2h3.7M689.2 246.2h-3.7M118.36 238.64h3.7M689.2 238.64h-3.7M118.36 233.28h3.7M689.2 233.28h-3.7M118.36 229.12h3.7M689.2 229.12h-3.7M118.36 225.72h3.7M689.2 225.72h-3.7M118.36 222.85h3.7M689.2 222.85h-3.7M118.36 220.36h3.7M689.2 220.36h-3.7M118.36 218.16h3.7M689.2 218.16h-3.7M118.36 216.2h6.9M689.2 216.2h-6.9M118.36 203.28h3.7M689.2 203.28h-3.7M118.36 195.72h3.7M689.2 195.72h-3.7M118.36 190.36h3.7M689.2 190.36h-3.7M118.36 186.2h3.7M689.2 186.2h-3.7M118.36 182.8h3.7M689.2 182.8h-3.7M118.36 179.93h3.7M689.2 179.93h-3.7M118.36 177.44h3.7M689.2 177.44h-3.7M118.36 175.24h3.7M689.2 175.24h-3.7M118.36 173.28h3.7M689.2 173.28h-3.7M118.36 160.36h3.7M689.2 160.36h-3.7M118.36 152.8h3.7M689.2 152.8h-3.7M118.36 147.44h3.7M689.2 147.44h-3.7M118.36 143.28h3.7M689.2 143.28h-3.7M118.36 139.88h3.7M689.2 139.88h-3.7M118.36 137.01h3.7M689.2 137.01h-3.7M118.36 134.52h3.7M689.2 134.52h-3.7M118.36 132.32h3.7M689.2 132.32h-3.7M118.36 130.36h6.9M689.2 130.36h-6.9M118.36 117.44h3.7M689.2 117.44h-3.7M118.36 109.88h3.7M689.2 109.88h-3.7M118.36 104.52h3.7M689.2 104.52h-3.7M118.36 100.36h3.7M689.2 100.36h-3.7M118.36 96.96h3.7M689.2 96.96h-3.7M118.36 94.09h3.7M689.2 94.09h-3.7M118.36 91.6h3.7M689.2 91.6h-3.7M118.36 89.4h3.7M689.2 89.4h-3.7M118.36 87.44h3.7M689.2 87.44h-3.7M118.36 74.52h3.7M689.2 74.52h-3.7M118.36 66.96h3.7M689.2 66.96h-3.7M118.36 61.6h3.7M689.2 61.6h-3.7M118.36 57.44h3.7M689.2 57.44h-3.7M118.36 54.04h3.7M689.2 54.04h-3.7M118.36 51.17h3.7M689.2 51.17h-3.7M118.36 48.68h3.7M689.2 48.68h-3.7M118.36 46.48h3.7M689.2 46.48h-3.7M118.36 44.52h6.9M689.2 44.52h-6.9M118.36 31.6h3.7M689.2 31.6h-3.7M118.36 24.04h3.7M689.2 24.04h-3.7M118.36 18.68h3.7M689.2 18.68h-3.7M118.36 14.52h3.7M689.2 14.52h-3.7M118.36 11.12h3.7M689.2 11.12h-3.7M118.36 8.25h3.7M689.2 8.25h-3.7M118.36 5.76h3.7M689.2 5.76h-3.7M118.36 3.56h3.7M689.2 3.56h-3.7" stroke="#000" stroke-width="1.7" fill="none"/>
<rect x="118.36" y="1.75" width="570.84" height="386.13" fill="none" stroke="#000" stroke-width="1.8"/>
<g class="tk">
<text x="99.4" y="58.72" text-anchor="end">10</text>
<text class="ex" x="99.6" y="46.02">4</text>
<text x="99.4" y="144.56" text-anchor="end">10</text>
<text class="ex" x="99.6" y="131.86">2</text>
<text x="99.4" y="230.4" text-anchor="end">10</text>
<text class="ex" x="99.6" y="217.7">0</text>
<text x="90.2" y="316.24" text-anchor="end">10</text>
<text class="ex" x="90.6" y="303.54">-2</text>
<text x="90.2" y="402.08" text-anchor="end">10</text>
<text class="ex" x="90.6" y="389.38">-4</text>
<text x="193.1" y="427.7">10</text>
<text class="ex" x="222.4" y="416.1">0</text>
<text x="383.58" y="427.7">10</text>
<text class="ex" x="412.88" y="416.1">2</text>
<text x="574.06" y="427.7">10</text>
<text class="ex" x="603.36" y="416.1">4</text>
</g>
<text class="lab" x="418.15" y="474.5" text-anchor="middle">log(N. of elements)</text>
<text class="ylab" transform="translate(40.2 187.2) rotate(-90)" text-anchor="middle">log(CPU time)</text>
<text class="cap" transform="translate(388.1 529.7) scale(1.051 1)" text-anchor="middle">(b)</text>
<rect x="131.2" y="14.4" width="208.2" height="156.5" fill="#fff" stroke="#000" stroke-width="1.8"/>
<polygon points="154.8,9.85 169.44,35.2 140.16,35.2" fill="none" stroke="#000" stroke-width="3.3" stroke-linejoin="miter"/>
<rect x="144.95" y="37.25" width="20.1" height="20.1" fill="none" stroke="#000" stroke-width="3.3"/>
<polygon points="154.9,56.7 157.71,64.93 166.41,65.06 159.45,70.28 162.01,78.59 154.9,73.58 147.79,78.59 150.35,70.28 143.39,65.06 152.09,64.93" fill="none" stroke="#000" stroke-width="3.5" stroke-linejoin="miter" stroke-miterlimit="6"/>
<path d="M142 88.8L167.6 88.8 M154.8 76L154.8 101.6 M145.75 79.75L163.85 97.85 M145.75 97.85L163.85 79.75" fill="none" stroke="#000" stroke-width="3.3"/>
<path d="M136 109.4H173.9" stroke="#dc281c" stroke-width="3.4"/>
<path d="M136 130.1H173.9" stroke="#2d46a5" stroke-width="3.4" stroke-dasharray="10.1 10"/>
<path d="M136 154.7H173.9" stroke="#000" stroke-width="2.9"/>
<g class="lg">
<text x="177.9" y="33" textLength="36.9" lengthAdjust="spacingAndGlyphs">p = 3</text>
<text x="177.9" y="53.68" textLength="36.9" lengthAdjust="spacingAndGlyphs">p = 4</text>
<text x="177.9" y="74.36" textLength="36.9" lengthAdjust="spacingAndGlyphs">p = 5</text>
<text x="177.9" y="95.04" textLength="36.9" lengthAdjust="spacingAndGlyphs">p = 6</text>
<text x="177.3" y="115.72" textLength="156.2" lengthAdjust="spacingAndGlyphs">Sub-Tessellation 3D</text>
<text x="177.3" y="136.4" textLength="127.4" lengthAdjust="spacingAndGlyphs">Quadrature Free</text>
<text class="tl" x="176.0" y="159.6">∼</text>
<text class="nn" x="195.8" y="156.7">N</text>
<text class="sb" x="208.2" y="164.7" textLength="8.3" lengthAdjust="spacingAndGlyphs">e</text>
</g>
</g>
</svg>
</body>
</html>
